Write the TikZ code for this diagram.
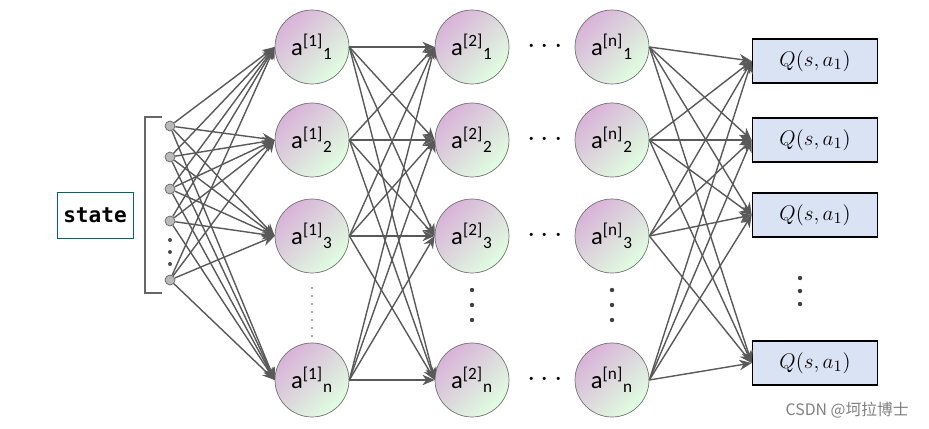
\documentclass[tikz,border=0pt]{standalone}
\usepackage{fontspec}
\setmainfont{Carlito}
\newfontfamily\monof{DejaVu Sans Mono}
\newfontfamily\cjk{Noto Sans CJK SC}
\usetikzlibrary{arrows.meta}
\definecolor{qfill}{HTML}{DAE3F3}
\tikzset{
  neuron/.style={circle, draw=gray!90!black, minimum size=1.48cm, inner sep=0pt,
    top color=violet!30, bottom color=green!12!white, shading angle=45,
    font=\fontsize{14}{14}\selectfont},
  inp/.style={circle, draw=gray!80!black, fill=gray!55, minimum size=0.2cm, inner sep=0pt},
  qbox/.style={draw=black, line width=1pt, fill=qfill, minimum width=2.5cm,
    minimum height=0.88cm, font=\fontsize{13}{13}\selectfont},
  link/.style={draw=black!65, line width=0.8pt, -{Stealth[length=7pt,width=6pt]}},
}
\begin{document}
\begin{tikzpicture}[x=0.02cm, y=-0.02cm]
  \useasboundingbox (0,0) rectangle (929,429);
  % input
  \node[draw=teal!80!black, minimum width=1.52cm, minimum height=0.92cm,
    font=\monof\bfseries\fontsize{12}{12}\selectfont] (state) at (95,215) {state};
  \draw[gray!80!black, line width=0.8pt] (162,117) -- (145,117) -- (145,293) -- (162,293);
  \foreach \i/\y in {1/126,2/157,3/189,4/221,5/280}
    \node[inp] (x\i) at (170,\y) {};
  \foreach \y in {240,252,264}
    \fill[black!70] (170,\y) circle (2);
  % hidden layers
  \foreach \c/\x/\l in {1/312/1,2/472/2,3/612/n}
    \foreach \r/\y/\s in {1/47/1,2/140/2,3/236/3,4/380/n}
      \node[neuron] (h\c\r) at (\x,\y) {a\textsuperscript{[\l]}\textsubscript{\s}};
  % outputs
  \foreach \r/\y in {1/61,2/140,3/215,4/363}
    \node[qbox] (q\r) at (815,\y) {$Q(s,a_1)$};
  % connections
  \foreach \i in {1,...,5}
    \foreach \r in {1,...,4}
      \draw[link] (x\i) -- (h1\r.west);
  \foreach \a in {1,...,4}
    \foreach \b in {1,...,4}
      \draw[link] (h1\a.east) -- (h2\b.west);
  \foreach \a in {1,...,4}
    \foreach \b in {1,...,4}
      \draw[link] (h3\a.east) -- (q\b.west);
  % dots
  \foreach \y in {47,140,236,380}
    \node[font=\fontsize{16}{16}\selectfont] at (545,\y) {$\cdots$};
  \foreach \y in {288,296,...,336}
    \fill[black!70] (312,\y) circle (0.9);
  \foreach \x in {472,612}
    \foreach \y in {290,305,320}
      \fill[black!75] (\x,\y) circle (2.2);
  \foreach \y in {278,291,304}
    \fill[black!75] (800,\y) circle (2.2);
  \node[anchor=east, text=gray, font=\cjk\fontsize{9}{9}\selectfont] (mark) at (915,410) {CSDN @坷拉博士};
\end{tikzpicture}
\end{document}
